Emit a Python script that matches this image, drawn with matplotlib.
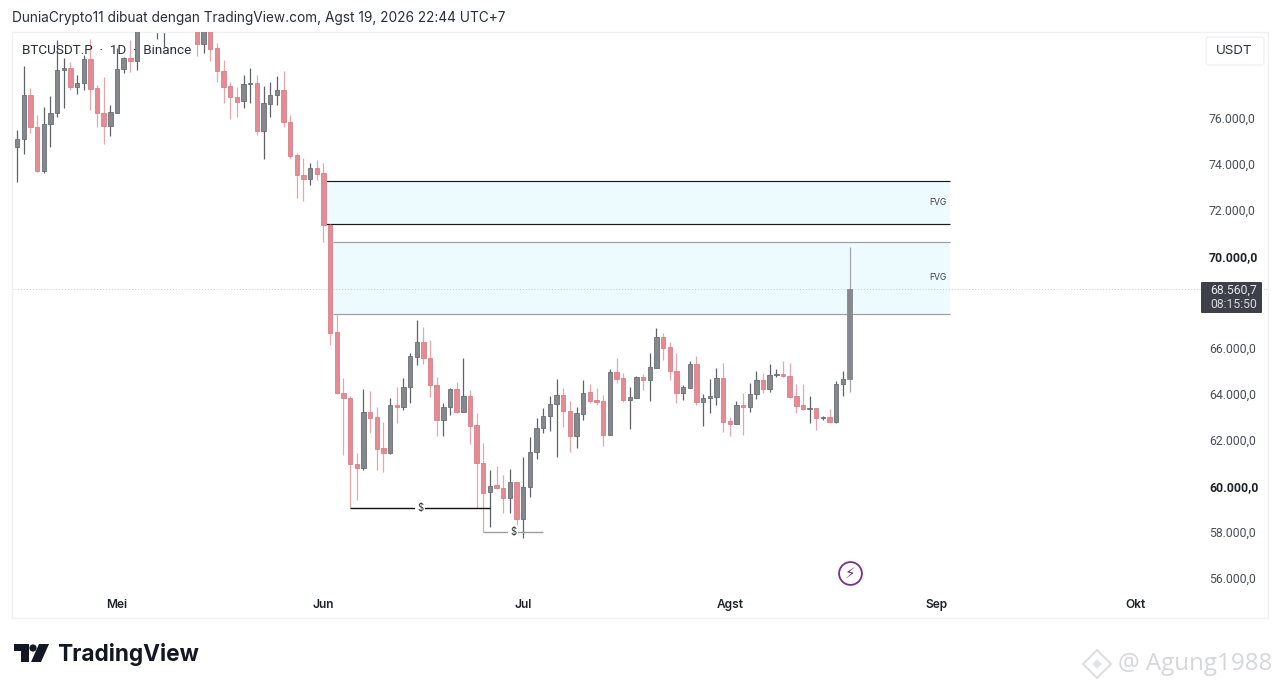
"""BTCUSDT.P 1D TradingView snapshot with FVG boxes."""

import matplotlib
matplotlib.use("Agg")
import matplotlib.pyplot as plt
from matplotlib.patches import Circle, FancyBboxPatch, Polygon, Rectangle

# data: hari dihitung dari 1 Mei
first_day = -16
opens = [74390, 74720, 75070, 76990, 75590, 73700, 75720, 76230, 78070, 78160, 77330, 77510, 78570, 77290, 76230, 75670,
         76230, 78120, 78590, 78480, 80100, 80700, 81500, 81200, 82500, 82000, 81800, 81200, 80500, 79220, 80300,
         79030, 78060, 77390, 76930, 76720, 77460, 77510, 75450, 76620, 76990, 77220, 75840, 74390, 73520, 73350, 73810, 73590,
         71350, 66680, 64030, 63810, 60940, 60800, 63230, 62980, 61640, 61420, 63520, 63450, 64320, 65620, 66250, 65580, 64410,
         62870, 63450, 64220, 63230, 63910, 62640, 60980, 59720, 60040, 59930, 59490, 60160, 58550, 59940, 61490, 62510, 63060,
         63550, 63960, 63260, 62170, 63130, 64070, 63720, 63700, 62230, 64940, 64680, 63740, 63840, 64720, 64610, 65150,
         66460, 66030, 65000, 64030, 64280, 65300, 63640, 63840, 63880, 64710, 62830, 62710, 63510, 63450, 64000, 64610,
         64230, 64810, 64880, 64800, 63900, 63520, 63360, 63380, 62960, 62990, 62800, 64420, 64640]
highs = [74750, 75480, 78260, 77290, 76130, 76490, 76960, 79390, 78590, 78450, 77870, 78740, 79420, 77440, 77800, 76570,
         79030, 78670, 79390, 80600, 81000, 82000, 82500, 82500, 83000, 82500, 82200, 81600, 81000, 80800, 80600,
         79250, 78520, 77580, 77360, 77870, 78160, 77870, 77390, 77580, 77830, 78060, 76130, 74490, 74250, 74030, 74170, 74030,
         71400, 67430, 64680, 63900, 61420, 64200, 64150, 63450, 62800, 63840, 64320, 64680, 65770, 67220, 66900, 66350, 64750,
         63590, 64250, 64510, 65550, 64170, 63160, 61880, 60700, 60870, 60480, 60720, 60190, 61280, 62150, 62940, 63380, 63930,
         64640, 64250, 63700, 63420, 64610, 64430, 64250, 63960, 65070, 65550, 64900, 64320, 64780, 64870, 65770, 66860,
         66640, 66280, 65770, 64390, 65450, 65650, 64000, 64670, 65120, 65360, 63010, 63710, 64030, 64460, 65000, 64930,
         65300, 65090, 65450, 65330, 64430, 64430, 63910, 63400, 63040, 63360, 64560, 65010, 70390]
lows = [74000, 73200, 74440, 75330, 73670, 73590, 74750, 76030, 76420, 77220, 77040, 77220, 76350, 75590, 74870, 75220,
        76200, 77940, 78010, 78090, 79900, 80000, 79420, 79100, 81500, 81200, 80900, 80400, 78700, 78840, 78490,
        77580, 76640, 75940, 76030, 76420, 76670, 75260, 74200, 76030, 76570, 75590, 74200, 72510, 72410, 73090, 73300, 70620,
        66130, 64000, 61350, 59030, 59390, 60700, 62320, 60700, 60620, 61400, 62750, 63300, 63590, 65250, 65300, 63860, 62170,
        62170, 63090, 63190, 63200, 61830, 59030, 58010, 58230, 59850, 58840, 58810, 58090, 57720, 59510, 61190, 62290, 62410,
        61270, 62580, 61490, 61640, 62870, 63590, 63520, 61740, 62200, 64460, 63670, 62460, 63810, 64170, 63710, 65120,
        65480, 64610, 63590, 63740, 64250, 63510, 62610, 63190, 63520, 62360, 62170, 62700, 62220, 63230, 63800, 64060,
        64100, 64720, 64750, 63810, 63160, 63300, 62750, 62430, 62870, 62720, 62720, 63910, 64100]
closes = [74420, 75070, 76990, 75590, 73700, 75720, 76230, 78090, 78160, 77330, 77510, 78570, 77280, 76230, 75670, 76250,
          78120, 78590, 78480, 80100, 80700, 81500, 82000, 82000, 82000, 81800, 81200, 81000, 79220, 80300, 79000,
          78060, 77360, 76900, 76700, 77480, 77520, 75450, 76640, 77000, 77200, 75830, 74350, 73510, 73350, 73810, 73580, 71350,
          66670, 64030, 63810, 60940, 60800, 63230, 62970, 61620, 61420, 63520, 63450, 64320, 65650, 66250, 65580, 64410, 62870,
          63450, 64220, 63230, 63910, 62620, 60980, 59710, 60010, 59930, 59490, 60160, 58550, 59940, 61490, 62510, 63040, 63550,
          63940, 63260, 62170, 63160, 64060, 63700, 63650, 62230, 64940, 64670, 63740, 63860, 64720, 64610, 65160, 66460,
          66010, 65000, 64030, 64290, 65300, 63640, 63840, 63900, 64710, 62800, 62710, 63510, 63450, 64010, 64590, 64230,
          64810, 64860, 64780, 63880, 63490, 63360, 63390, 62960, 63000, 62780, 64430, 64640, 68560.7]

month_days = [0, 31, 61, 92, 123, 153]
month_labels = ["Mei", "Jun", "Jul", "Agst", "Sep", "Okt"]
price_ticks = [56000, 58000, 60000, 62000, 64000, 66000, 70000, 72000, 74000, 76000]
price_labels = ["56.000,0", "58.000,0", "60.000,0", "62.000,0", "64.000,0", "66.000,0",
                "70.000,0", "72.000,0", "74.000,0", "76.000,0"]
bold_prices = ["60.000,0", "70.000,0"]
last_price = 68560.7

# FVG: (hari mulai, hari akhir, harga bawah, harga atas, warna garis)
fvg_zones = [(31.4, 125, 71413, 73261, "#16181c"), (32.4, 125, 67500, 70609, "#9a9ea3")]
liquidity_levels = [(35, 56, 59022, 45.5, "#111317"), (55, 64, 58014, 59.5, "#9a9ea3")]

PINK, PINK_EDGE, PINK_WICK = "#e58b94", "#d97f89", "#e8a6ac"
GRAY, GRAY_EDGE, GRAY_WICK = "#85888d", "#6a6d72", "#5e6165"
TEXT = "#2a2e39"

plt.rcParams["font.family"] = ["Inter", "DejaVu Sans"]

fig = plt.figure(figsize=(12.8, 6.89), dpi=100, facecolor="white")

# panel harga, koordinat sama dengan piksel gambar
ax = fig.add_axes([12 / 1280, 1 - 618 / 689, 1256 / 1280, 586 / 689])
ax.set_xlim((12 - 117) / 6.66, (1268 - 117) / 6.66)
ax.set_ylim(76000 - (618 - 118) / 0.023, 76000 - (32 - 118) / 0.023)
for s in ax.spines.values():
    s.set_color("#f0f1f3")
    s.set_linewidth(1)

days = [first_day + i for i in range(len(opens))]
up = [c >= o for o, c in zip(opens, closes)]
wick_colors = [GRAY_WICK if u else PINK_WICK for u in up]
body_colors = [GRAY if u else PINK for u in up]
edge_colors = [GRAY_EDGE if u else PINK_EDGE for u in up]
bottoms = [min(o, c) for o, c in zip(opens, closes)]
heights = [max(abs(c - o), 45) for o, c in zip(opens, closes)]

# candle pertama cuma kelihatan sumbunya, candle terakhir masih berjalan jadi lebih pucat
body_colors[0] = edge_colors[0] = "none"
wick_colors[-1] = "#a2a5a9"
edge_colors[-1] = GRAY

for d0, d1, lo, hi, col in fvg_zones:
    ax.add_patch(Rectangle((d0, lo), d1 - d0, hi - lo, facecolor="#eefbfe", edgecolor="none", zorder=1))
    ax.hlines([lo, hi], d0, d1, color=col, lw=0.85, zorder=1.5)
    ax.text(d1 - 0.45, (lo + hi) / 2, "FVG", ha="right", va="center", fontsize=6.2, color="#3a3d43", zorder=4)

ax.axhline(last_price, color="#c9ccd1", lw=0.7, ls=(0, (1, 2)), zorder=1.6)

ax.vlines(days, lows, highs, colors=wick_colors, lw=0.9, zorder=2)
ax.bar(days, heights, bottom=bottoms, width=0.66, color=body_colors, edgecolor=edge_colors, linewidth=0.6, zorder=3)

for d0, d1, price, mid, col in liquidity_levels:
    ax.hlines(price, d0, d1, color=col, lw=1.0, zorder=3.5)
    ax.text(mid, price, "$", ha="center", va="center", fontsize=7, color="#33363c", zorder=4,
            bbox=dict(facecolor="white", edgecolor="none", pad=1.5))

ax.set_xticks(month_days, month_labels, fontsize=8.6, fontweight="semibold", color="#1f2229")
ax.tick_params(axis="x", length=0, pad=-14)
ax.yaxis.tick_right()
ax.set_yticks(price_ticks, price_labels, fontsize=8.8, color="#4a4e57", family="Roboto")
ax.tick_params(axis="y", length=0, pad=-42.5)
for lab in ax.get_yticklabels():
    if lab.get_text() in bold_prices:
        lab.set_fontweight("bold")
        lab.set_color("#1f2229")

# sinyal petir di bawah candle terakhir
ax.scatter([days[-1] + 0.1], [56220], s=270, facecolor="white", edgecolor="#7a2f8f", linewidth=1.3, zorder=5)
ax.text(days[-1] + 0.1, 56220, "\u26a1", ha="center", va="center", fontsize=11, color="#7a2f8f",
        family="DejaVu Sans", zorder=6)

# lapisan piksel untuk header, logo dan watermark
over = fig.add_axes([0, 0, 1, 1], zorder=10)
over.set_xlim(0, 1280)
over.set_ylim(689, 0)
over.set_axis_off()

over.text(12, 18, "DuniaCrypto11 dibuat dengan TradingView.com, Agst 19, 2026 22:44 UTC+7",
          fontsize=9.85, color=TEXT, va="center", ha="left")
over.text(22, 50.5, "BTCUSDT.P  \u00b7  1D  \u00b7  Binance", fontsize=9.7, color=TEXT, va="center", ha="left",
          family="Roboto")

over.add_patch(FancyBboxPatch((1206, 37), 58, 28, boxstyle="round,pad=0,rounding_size=3",
                              facecolor="white", edgecolor="#f1f2f4", lw=1))
over.text(1234.5, 51, "USDT", fontsize=9.6, color=TEXT, ha="center", va="center")

over.add_patch(FancyBboxPatch((1201, 282), 61, 31, boxstyle="round,pad=0,rounding_size=1",
                              facecolor="#3d4049", edgecolor="none"))
over.text(1233.5, 290, "68.560,7", fontsize=8.8, color="#e6e7ea", ha="center", va="center", family="Roboto")
over.text(1233.5, 304, "08:15:50", fontsize=8.8, color="#d5d7db", ha="center", va="center", family="Roboto")

# logo TradingView
logo = "#131722"
over.add_patch(Polygon([(14, 644), (29, 644), (29, 662), (21, 662), (21, 651), (14, 651)], facecolor=logo, edgecolor="none"))
over.add_patch(Circle((33, 648), 3.6, facecolor=logo, edgecolor="none"))
over.add_patch(Polygon([(39, 644), (49, 644), (41, 662), (31, 662)], facecolor=logo, edgecolor="none"))
over.text(57, 654, "TradingView", fontsize=16.3, fontweight="bold", color=logo, ha="left", va="center")

# watermark
over.text(1272, 664, "@ Agung1988", fontsize=17.4, color="#d6d7d9", ha="right", va="center", family="Open Sans")
over.add_patch(Polygon([(1097, 650), (1111, 664), (1097, 678), (1083, 664)], facecolor="white", edgecolor="#dcdddf", lw=1.4))
over.add_patch(Polygon([(1097, 659), (1102, 664), (1097, 669), (1092, 664)], facecolor="#e3e4e6", edgecolor="none"))

fig.savefig("out.png", dpi=100)
